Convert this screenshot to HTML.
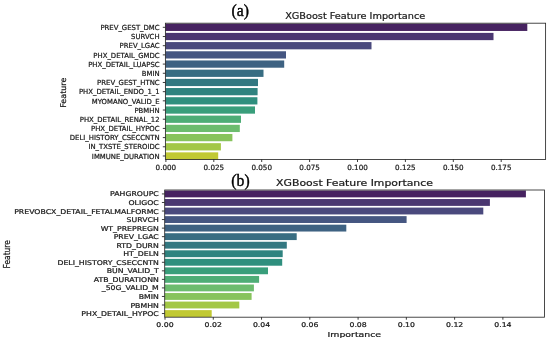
<!DOCTYPE html>
<html><head><meta charset="utf-8"><title>XGBoost Feature Importance</title>
<style>
html,body{margin:0;padding:0;background:#fff;}
body{width:550px;height:341px;overflow:hidden;}
svg{display:block;filter:blur(0.3px);font-family:"DejaVu Sans","Liberation Sans",sans-serif;fill:#1a1a1a;}
svg text{stroke:#1a1a1a;stroke-width:0.22px;}
svg .serif{font-family:"Liberation Serif","DejaVu Serif",serif;fill:#000;stroke:#000;stroke-width:0.4px;}
svg .tk{stroke:#1a1a1a;stroke-width:0.85;}
svg .fr{stroke:#2a2a2a;stroke-width:0.85;}
</style></head><body>
<svg width="550" height="341" viewBox="0 0 550 341">
<rect width="550" height="341" fill="#ffffff"/>
<rect x="165.40" y="23.70" width="361.90" height="7.25" fill="#462260"/>
<line x1="162.80" x2="165.40" y1="27.32" y2="27.32" class="tk"/>
<text transform="translate(159.60,29.98) scale(0.985,1)" text-anchor="end" font-size="7.00">PREV_GEST_DMC</text>
<rect x="165.40" y="32.89" width="328.10" height="7.25" fill="#4a3771"/>
<line x1="162.80" x2="165.40" y1="36.52" y2="36.52" class="tk"/>
<text transform="translate(159.60,39.17) scale(0.985,1)" text-anchor="end" font-size="7.00">SURVCH</text>
<rect x="165.40" y="42.08" width="206.10" height="7.25" fill="#4a497d"/>
<line x1="162.80" x2="165.40" y1="45.70" y2="45.70" class="tk"/>
<text transform="translate(159.60,48.36) scale(0.985,1)" text-anchor="end" font-size="7.00">PREV_LGAC</text>
<rect x="165.40" y="51.27" width="120.60" height="7.25" fill="#455681"/>
<line x1="162.80" x2="165.40" y1="54.89" y2="54.89" class="tk"/>
<text transform="translate(159.60,57.55) scale(0.985,1)" text-anchor="end" font-size="7.00">PHX_DETAIL_GMDC</text>
<rect x="165.40" y="60.46" width="118.80" height="7.25" fill="#3e6282"/>
<line x1="162.80" x2="165.40" y1="64.08" y2="64.08" class="tk"/>
<text transform="translate(159.60,66.74) scale(0.985,1)" text-anchor="end" font-size="7.00">PHX_DETAIL_LUAPSC</text>
<rect x="165.40" y="69.65" width="98.10" height="7.25" fill="#386d82"/>
<line x1="162.80" x2="165.40" y1="73.27" y2="73.27" class="tk"/>
<text transform="translate(159.60,75.93) scale(0.985,1)" text-anchor="end" font-size="7.00">BMIN</text>
<rect x="165.40" y="78.84" width="92.60" height="7.25" fill="#337881"/>
<line x1="162.80" x2="165.40" y1="82.47" y2="82.47" class="tk"/>
<text transform="translate(159.60,85.12) scale(0.985,1)" text-anchor="end" font-size="7.00">PREV_GEST_HTNC</text>
<rect x="165.40" y="88.03" width="92.20" height="7.25" fill="#2f837f"/>
<line x1="162.80" x2="165.40" y1="91.66" y2="91.66" class="tk"/>
<text transform="translate(159.60,94.31) scale(0.985,1)" text-anchor="end" font-size="7.00">PHX_DETAIL_ENDO_1_1</text>
<rect x="165.40" y="97.22" width="92.00" height="7.25" fill="#2f8f7e"/>
<line x1="162.80" x2="165.40" y1="100.84" y2="100.84" class="tk"/>
<text transform="translate(159.60,103.50) scale(0.985,1)" text-anchor="end" font-size="7.00">MYOMANO_VALID_E</text>
<rect x="165.40" y="106.41" width="89.60" height="7.25" fill="#399e7b"/>
<line x1="162.80" x2="165.40" y1="110.03" y2="110.03" class="tk"/>
<text transform="translate(159.60,112.69) scale(0.985,1)" text-anchor="end" font-size="7.00">PBMHN</text>
<rect x="165.40" y="115.60" width="75.60" height="7.25" fill="#4ead76"/>
<line x1="162.80" x2="165.40" y1="119.22" y2="119.22" class="tk"/>
<text transform="translate(159.60,121.88) scale(0.985,1)" text-anchor="end" font-size="7.00">PHX_DETAIL_RENAL_12</text>
<rect x="165.40" y="124.79" width="74.40" height="7.25" fill="#6cbc6e"/>
<line x1="162.80" x2="165.40" y1="128.41" y2="128.41" class="tk"/>
<text transform="translate(159.60,131.07) scale(0.985,1)" text-anchor="end" font-size="7.00">PHX_DETAIL_HYPOC</text>
<rect x="165.40" y="133.98" width="67.00" height="7.25" fill="#87c35c"/>
<line x1="162.80" x2="165.40" y1="137.60" y2="137.60" class="tk"/>
<text transform="translate(159.60,140.26) scale(0.985,1)" text-anchor="end" font-size="7.00">DELI_HISTORY_CSECCNTN</text>
<rect x="165.40" y="143.17" width="55.50" height="7.25" fill="#a3c746"/>
<line x1="162.80" x2="165.40" y1="146.79" y2="146.79" class="tk"/>
<text transform="translate(159.60,149.45) scale(0.985,1)" text-anchor="end" font-size="7.00">IN_TXSTE_STEROIDC</text>
<rect x="165.40" y="152.36" width="52.80" height="7.25" fill="#c1c933"/>
<line x1="162.80" x2="165.40" y1="155.98" y2="155.98" class="tk"/>
<text transform="translate(159.60,158.64) scale(0.985,1)" text-anchor="end" font-size="7.00">IMMUNE_DURATION</text>
<rect x="165.40" y="23.20" width="380.20" height="136.30" fill="none" class="fr"/>
<line x1="165.90" x2="165.90" y1="159.50" y2="162.00" class="tk"/>
<text transform="translate(165.90,170.20) scale(1.0,1)" text-anchor="middle" font-size="7.20">0.000</text>
<line x1="213.80" x2="213.80" y1="159.50" y2="162.00" class="tk"/>
<text transform="translate(213.80,170.20) scale(1.0,1)" text-anchor="middle" font-size="7.20">0.025</text>
<line x1="261.70" x2="261.70" y1="159.50" y2="162.00" class="tk"/>
<text transform="translate(261.70,170.20) scale(1.0,1)" text-anchor="middle" font-size="7.20">0.050</text>
<line x1="309.60" x2="309.60" y1="159.50" y2="162.00" class="tk"/>
<text transform="translate(309.60,170.20) scale(1.0,1)" text-anchor="middle" font-size="7.20">0.075</text>
<line x1="357.50" x2="357.50" y1="159.50" y2="162.00" class="tk"/>
<text transform="translate(357.50,170.20) scale(1.0,1)" text-anchor="middle" font-size="7.20">0.100</text>
<line x1="405.40" x2="405.40" y1="159.50" y2="162.00" class="tk"/>
<text transform="translate(405.40,170.20) scale(1.0,1)" text-anchor="middle" font-size="7.20">0.125</text>
<line x1="453.30" x2="453.30" y1="159.50" y2="162.00" class="tk"/>
<text transform="translate(453.30,170.20) scale(1.0,1)" text-anchor="middle" font-size="7.20">0.150</text>
<line x1="501.20" x2="501.20" y1="159.50" y2="162.00" class="tk"/>
<text transform="translate(501.20,170.20) scale(1.0,1)" text-anchor="middle" font-size="7.20">0.175</text>
<text transform="translate(355.20,19.30) scale(1.035,1)" text-anchor="middle" font-size="9.40">XGBoost Feature Importance</text>
<text x="240.2" y="15.8" text-anchor="middle" font-size="15.7" class="serif">(a)</text>
<text transform="translate(66.0,92.7) scale(0.985,1) rotate(-90)" text-anchor="middle" font-size="8.00">Feature</text>
<rect x="164.70" y="190.50" width="361.20" height="6.85" fill="#462260"/>
<line x1="161.90" x2="164.70" y1="193.93" y2="193.93" class="tk"/>
<text transform="translate(158.80,196.43) scale(1.18,1)" text-anchor="end" font-size="6.60">PAHGROUPC</text>
<rect x="164.70" y="199.04" width="325.20" height="6.85" fill="#4a3771"/>
<line x1="161.90" x2="164.70" y1="202.47" y2="202.47" class="tk"/>
<text transform="translate(158.80,204.98) scale(1.18,1)" text-anchor="end" font-size="6.60">OLIGOC</text>
<rect x="164.70" y="207.59" width="318.60" height="6.85" fill="#4a497d"/>
<line x1="161.90" x2="164.70" y1="211.02" y2="211.02" class="tk"/>
<text transform="translate(158.80,213.52) scale(1.18,1)" text-anchor="end" font-size="6.60">PREVOBCX_DETAIL_FETALMALFORMC</text>
<rect x="164.70" y="216.13" width="241.90" height="6.85" fill="#455681"/>
<line x1="161.90" x2="164.70" y1="219.56" y2="219.56" class="tk"/>
<text transform="translate(158.80,222.07) scale(1.18,1)" text-anchor="end" font-size="6.60">SURVCH</text>
<rect x="164.70" y="224.68" width="181.60" height="6.85" fill="#3e6282"/>
<line x1="161.90" x2="164.70" y1="228.11" y2="228.11" class="tk"/>
<text transform="translate(158.80,230.61) scale(1.18,1)" text-anchor="end" font-size="6.60">WT_PREPREGN</text>
<rect x="164.70" y="233.22" width="132.00" height="6.85" fill="#386d82"/>
<line x1="161.90" x2="164.70" y1="236.65" y2="236.65" class="tk"/>
<text transform="translate(158.80,239.16) scale(1.18,1)" text-anchor="end" font-size="6.60">PREV_LGAC</text>
<rect x="164.70" y="241.77" width="122.10" height="6.85" fill="#337881"/>
<line x1="161.90" x2="164.70" y1="245.19" y2="245.19" class="tk"/>
<text transform="translate(158.80,247.70) scale(1.18,1)" text-anchor="end" font-size="6.60">RTD_DURN</text>
<rect x="164.70" y="250.31" width="118.00" height="6.85" fill="#2f837f"/>
<line x1="161.90" x2="164.70" y1="253.74" y2="253.74" class="tk"/>
<text transform="translate(158.80,256.25) scale(1.18,1)" text-anchor="end" font-size="6.60">HT_DELN</text>
<rect x="164.70" y="258.86" width="117.50" height="6.85" fill="#2f8f7e"/>
<line x1="161.90" x2="164.70" y1="262.29" y2="262.29" class="tk"/>
<text transform="translate(158.80,264.79) scale(1.18,1)" text-anchor="end" font-size="6.60">DELI_HISTORY_CSECCNTN</text>
<rect x="164.70" y="267.40" width="103.30" height="6.85" fill="#399e7b"/>
<line x1="161.90" x2="164.70" y1="270.83" y2="270.83" class="tk"/>
<text transform="translate(158.80,273.34) scale(1.18,1)" text-anchor="end" font-size="6.60">BUN_VALID_T</text>
<rect x="164.70" y="275.95" width="94.40" height="6.85" fill="#4ead76"/>
<line x1="161.90" x2="164.70" y1="279.38" y2="279.38" class="tk"/>
<text transform="translate(158.80,281.88) scale(1.18,1)" text-anchor="end" font-size="6.60">ATB_DURATIONN</text>
<rect x="164.70" y="284.50" width="89.20" height="6.85" fill="#6cbc6e"/>
<line x1="161.90" x2="164.70" y1="287.92" y2="287.92" class="tk"/>
<text transform="translate(158.80,290.43) scale(1.18,1)" text-anchor="end" font-size="6.60">_50G_VALID_M</text>
<rect x="164.70" y="293.04" width="86.90" height="6.85" fill="#87c35c"/>
<line x1="161.90" x2="164.70" y1="296.46" y2="296.46" class="tk"/>
<text transform="translate(158.80,298.97) scale(1.18,1)" text-anchor="end" font-size="6.60">BMIN</text>
<rect x="164.70" y="301.58" width="74.60" height="6.85" fill="#a3c746"/>
<line x1="161.90" x2="164.70" y1="305.01" y2="305.01" class="tk"/>
<text transform="translate(158.80,307.52) scale(1.18,1)" text-anchor="end" font-size="6.60">PBMHN</text>
<rect x="164.70" y="310.13" width="47.00" height="6.85" fill="#c1c933"/>
<line x1="161.90" x2="164.70" y1="313.56" y2="313.56" class="tk"/>
<text transform="translate(158.80,316.06) scale(1.18,1)" text-anchor="end" font-size="6.60">PHX_DETAIL_HYPOC</text>
<rect x="164.70" y="190.00" width="379.80" height="127.20" fill="none" class="fr"/>
<line x1="165.00" x2="165.00" y1="317.20" y2="319.70" class="tk"/>
<text transform="translate(165.00,326.50) scale(1.18,1)" text-anchor="middle" font-size="6.60">0.00</text>
<line x1="213.27" x2="213.27" y1="317.20" y2="319.70" class="tk"/>
<text transform="translate(213.27,326.50) scale(1.18,1)" text-anchor="middle" font-size="6.60">0.02</text>
<line x1="261.54" x2="261.54" y1="317.20" y2="319.70" class="tk"/>
<text transform="translate(261.54,326.50) scale(1.18,1)" text-anchor="middle" font-size="6.60">0.04</text>
<line x1="309.81" x2="309.81" y1="317.20" y2="319.70" class="tk"/>
<text transform="translate(309.81,326.50) scale(1.18,1)" text-anchor="middle" font-size="6.60">0.06</text>
<line x1="358.08" x2="358.08" y1="317.20" y2="319.70" class="tk"/>
<text transform="translate(358.08,326.50) scale(1.18,1)" text-anchor="middle" font-size="6.60">0.08</text>
<line x1="406.35" x2="406.35" y1="317.20" y2="319.70" class="tk"/>
<text transform="translate(406.35,326.50) scale(1.18,1)" text-anchor="middle" font-size="6.60">0.10</text>
<line x1="454.62" x2="454.62" y1="317.20" y2="319.70" class="tk"/>
<text transform="translate(454.62,326.50) scale(1.18,1)" text-anchor="middle" font-size="6.60">0.12</text>
<line x1="502.89" x2="502.89" y1="317.20" y2="319.70" class="tk"/>
<text transform="translate(502.89,326.50) scale(1.18,1)" text-anchor="middle" font-size="6.60">0.14</text>
<text transform="translate(354.50,186.00) scale(1.21,1)" text-anchor="middle" font-size="9.00">XGBoost Feature Importance</text>
<text x="240.5" y="186.2" text-anchor="middle" font-size="15.7" class="serif">(b)</text>
<text transform="translate(10.0,254.3) scale(1.18,1) rotate(-90)" text-anchor="middle" font-size="7.50">Feature</text>
<text transform="translate(354.30,337.20) scale(1.265,1)" text-anchor="middle" font-size="7.40">Importance</text>
</svg>
</body></html>
